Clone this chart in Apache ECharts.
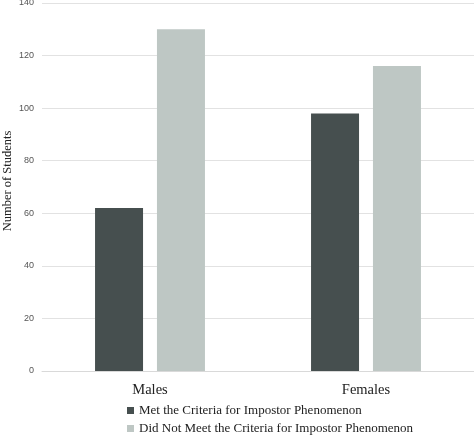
<!DOCTYPE html>
<html>
<head>
<meta charset="utf-8">
<script src="https://cdn.jsdelivr.net/npm/echarts@6/dist/echarts.min.js"></script>
<style>html,body{margin:0;padding:0;background:#fff}#c{width:474px;height:437px}</style>
</head>
<body>
<div id="c"></div>
<script>
var categories = ['Males', 'Females'];
var metCriteria = [62, 98];
var didNotMeet = [130, 116];
var seriesNames = ['Met the Criteria for Impostor Phenomenon', 'Did Not Meet the Criteria for Impostor Phenomenon'];
var yTicks = { min: 0, max: 140, interval: 20 };

var chart = echarts.init(document.getElementById('c'));
chart.setOption({
  backgroundColor: '#ffffff',
  animation: false,
  grid: { left: 42, right: 0, top: 3, bottom: 66, containLabel: false, outerBoundsMode: 'none' },
  legend: {
    orient: 'vertical',
    left: 127,
    top: 404,
    padding: 0,
    itemWidth: 7,
    itemHeight: 7,
    itemGap: 5,
    icon: 'rect',
    textStyle: { fontFamily: 'Liberation Serif', fontSize: 13, lineHeight: 13, color: '#222' },
    data: seriesNames
  },
  xAxis: {
    type: 'category',
    data: categories,
    axisTick: { show: false },
    axisLine: { lineStyle: { color: '#d9d9d9' } },
    axisLabel: { fontFamily: 'Liberation Serif', fontSize: 14.5, color: '#222', margin: 12 }
  },
  yAxis: {
    type: 'value',
    min: yTicks.min,
    max: yTicks.max,
    interval: yTicks.interval,
    name: 'Number of Students',
    nameLocation: 'middle',
    nameGap: 28,
    nameMoveOverlap: false,
    nameTextStyle: { fontFamily: 'Liberation Serif', fontSize: 12.5, color: '#222', padding: [0, 0, 0, 12] },
    axisLine: { show: false },
    axisTick: { show: false },
    axisLabel: { fontFamily: 'Liberation Sans', fontSize: 9, color: '#555', margin: 8 },
    splitLine: { lineStyle: { color: '#e2e2e2' } }
  },
  series: [
    { name: seriesNames[0], type: 'bar', data: metCriteria, barWidth: 48, barGap: '29%', itemStyle: { color: '#464f4f' } },
    { name: seriesNames[1], type: 'bar', data: didNotMeet, barWidth: 48, itemStyle: { color: '#bec7c4' } }
  ]
});
</script>
</body>
</html>
